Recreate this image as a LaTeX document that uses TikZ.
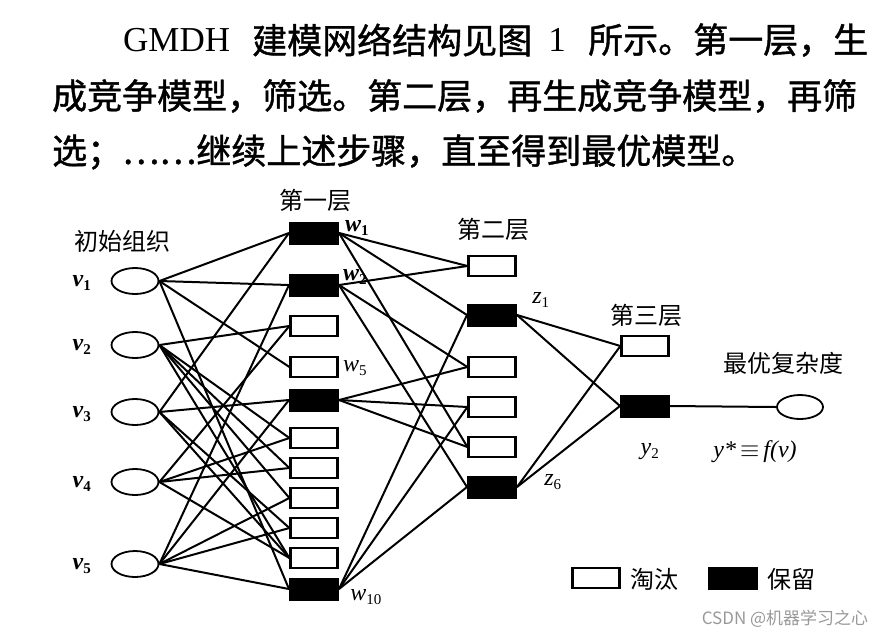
\documentclass[tikz,border=0pt]{standalone}
\usepackage{fontspec}
\setmainfont{Liberation Serif}
\newfontfamily\cjk{Noto Sans CJK SC}
\newfontfamily\cjkbold[FakeBold=1.2]{Noto Sans CJK SC}
\usetikzlibrary{shapes.geometric}
\begin{document}
\begin{tikzpicture}[x=1pt,y=-1pt,
  every node/.style={inner sep=0pt},
  para/.style={anchor=west,font=\cjkbold\fontsize{35}{40}\selectfont},
  layer/.style={font=\cjk\fontsize{24}{26}\selectfont},
  var/.style={font=\fontsize{24}{26}\selectfont\itshape},
  bvar/.style={font=\fontsize{24}{26}\selectfont\bfseries\itshape},
  drop/.style={draw,line width=2.2pt,fill=white,minimum width=47pt,minimum height=20pt},
  keep/.style={draw,line width=1pt,fill=black,minimum width=49pt,minimum height=22pt},
  src/.style={draw,ellipse,line width=1.8pt,minimum width=47pt,minimum height=26pt},
  link/.style={line width=2pt}]
\useasboundingbox (0,0) rectangle (896,638);
% text above the figure
\node[anchor=west,font=\fontsize{35}{40}\selectfont] (gmdh) at (123,40) {GMDH};
\node[para] (t1a) at (252,40) {建模网络结构见图};
\node[font=\fontsize{35}{40}\selectfont] (t1b) at (557,40) {1};
\node[para] (t1c) at (588,40) {所示。第一层，生};
\node[para] (t2) at (52,96) {成竞争模型，筛选。第二层，再生成竞争模型，再筛};
\node[para] (t3) at (52,152) {选；……继续上述步骤，直至得到最优模型。};
% inputs
\foreach \i/\y in {1/281,2/345,3/412,4/482,5/564}{
  \node[src] (v\i) at (135,\y) {};
  \node[bvar] (lv\i) at (82,\y+2) {v\textsubscript{\upshape\fontsize{15}{15}\selectfont\i}};
}
\node[layer] (init) at (122,241) {初始组织};
% first layer
\foreach \i/\y/\s in {1/233/keep,2/285/keep,3/326/drop,4/367/drop,5/400/keep,6/438/drop,7/468/drop,8/498/drop,9/528/drop,10/558/drop,11/589/keep}
  \node[\s] (a\i) at (314,\y) {};
\node[layer] (l1) at (315,200) {第一层};
% second layer
\foreach \i/\y/\s in {1/266/drop,2/315/keep,3/367/drop,4/407/drop,5/447/drop,6/487/keep}
  \node[\s] (b\i) at (492,\y) {};
\node[layer] (l2) at (493,229) {第二层};
% third layer and output
\node[drop] (c1) at (645,346) {};
\node[keep] (c2) at (645,406) {};
\node[layer] (l3) at (646,315) {第三层};
\node[src,minimum width=46pt,minimum height=24pt] (out) at (800,407) {};
\node[layer] (best) at (783,363) {最优复杂度};
% connections
\foreach \s/\t in {1/1,1/2,1/4,1/11,2/3,2/6,2/7,2/8,2/10,3/1,3/5,3/9,3/10,4/3,4/6,4/7,4/10,5/2,5/5,5/8,5/9,5/11}
  \draw[link] (v\s.east) -- (a\t.west);
\foreach \s/\t in {1/1,1/2,1/5,2/1,2/3,2/6,5/3,5/4,5/5,11/2,11/4,11/6}
  \draw[link] (a\s.east) -- (b\t.west);
\foreach \s/\t in {2/1,2/2,6/1,6/2}
  \draw[link] (b\s.east) -- (c\t.west);
\draw[link] (c2.east) -- (out.west);
% labels
\node[bvar] (lw1) at (357,228) {w\textsubscript{\upshape\fontsize{15}{15}\selectfont 1}};
\node[bvar] (lw2) at (355,277) {w\textsubscript{\upshape\fontsize{15}{15}\selectfont 2}};
\node[var] (lw5) at (355,368) {w\textsubscript{\upshape\fontsize{15}{15}\selectfont 5}};
\node[var] (lw10) at (366,597) {w\textsubscript{\upshape\fontsize{15}{15}\selectfont 10}};
\node[var] (lz1) at (541,300) {z\textsubscript{\upshape\fontsize{15}{15}\selectfont 1}};
\node[var] (lz6) at (553,482) {z\textsubscript{\upshape\fontsize{15}{15}\selectfont 6}};
\node[var] (ly2) at (650,452) {y\textsubscript{\upshape\fontsize{15}{15}\selectfont 2}};
\node[var] (fy) at (755,452) {y*\,$\equiv$\,f(v)};
% legend
\node[drop] (kdrop) at (596,578) {};
\node[layer] (ldrop) at (654,579) {淘汰};
\node[keep] (kkeep) at (733,578) {};
\node[layer] (lkeep) at (791,579) {保留};
\node[font=\cjk\fontsize{17}{18}\selectfont,text=black!40] (mark) at (785,619) {CSDN @机器学习之心};
\end{tikzpicture}
\end{document}
